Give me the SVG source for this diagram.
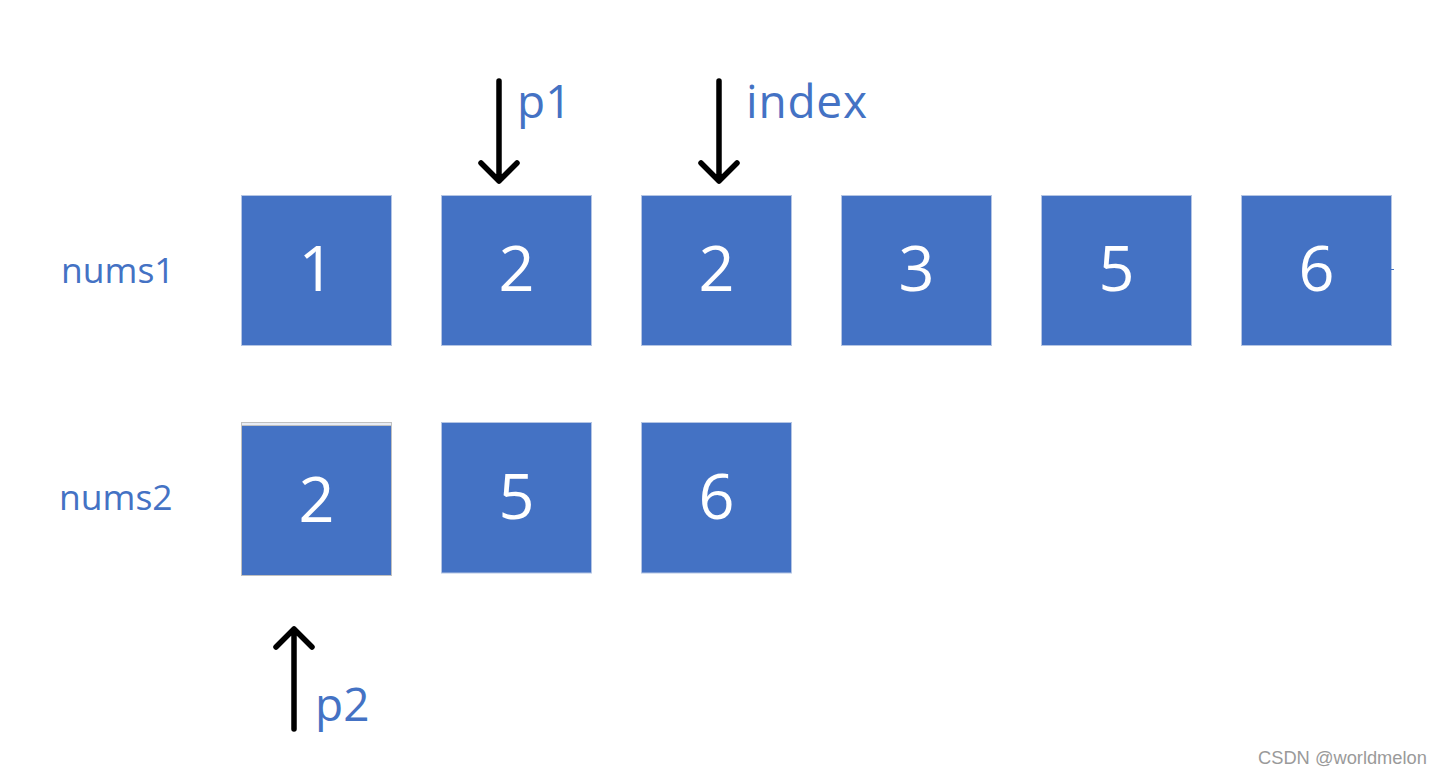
<svg xmlns="http://www.w3.org/2000/svg" width="1443" height="774" viewBox="0 0 1443 774">
<style>
.box{fill:#4472C4;stroke:#B4C5E4;stroke-width:1}
.num{font-family:"Open Sans","Noto Sans",sans-serif;font-size:63px;fill:#FFFFFF;text-anchor:middle}
.lbl{font-family:"Open Sans","Noto Sans",sans-serif;fill:#4472C4}
.arr{fill:none;stroke:#000000;stroke-width:5.5;stroke-linecap:round;stroke-linejoin:round}
.wm{font-family:"Liberation Sans",Arial,sans-serif;font-size:18.3px;fill:#9a9a9a}
</style>
<rect width="1443" height="774" fill="#FFFFFF"/>
<g id="label-nums1"><text class="lbl" x="61" y="283" font-size="35.5">nums1</text></g>
<g id="label-nums2"><text class="lbl" x="59" y="510" font-size="35.5">nums2</text></g>
<g id="n1-0"><rect class="box" x="241.5" y="195.5" width="150" height="150"/><text class="num" x="316.5" y="291">1</text></g>
<g id="n1-1"><rect class="box" x="441.5" y="195.5" width="150" height="150"/><text class="num" x="516.5" y="291">2</text></g>
<g id="n1-2"><rect class="box" x="641.5" y="195.5" width="150" height="150"/><text class="num" x="716.5" y="291">2</text></g>
<g id="n1-3"><rect class="box" x="841.5" y="195.5" width="150" height="150"/><text class="num" x="916.5" y="291">3</text></g>
<g id="n1-4"><rect class="box" x="1041.5" y="195.5" width="150" height="150"/><text class="num" x="1116.5" y="291">5</text></g>
<g id="n1-5"><rect class="box" x="1241.5" y="195.5" width="150" height="150"/><text class="num" x="1316.5" y="291">6</text><line x1="1391" y1="269.5" x2="1394" y2="269.5" stroke="#4472C4" stroke-width="1"/></g>
<g id="n2-0"><rect x="241.5" y="422.5" width="150" height="153" fill="#4472C4" stroke="#C0C0C0" stroke-width="1"/><line x1="242" y1="424" x2="391" y2="424" stroke="#E8ECF4" stroke-width="2"/><line x1="242" y1="425.5" x2="391" y2="425.5" stroke="#C0C0C0" stroke-width="1"/><text class="num" x="316.5" y="522">2</text></g>
<g id="n2-1"><rect class="box" x="441.5" y="422.5" width="150" height="150.5"/><text class="num" x="516.5" y="519">5</text></g>
<g id="n2-2"><rect class="box" x="641.5" y="422.5" width="150" height="150.5"/><text class="num" x="716.5" y="519">6</text></g>
<g id="connectors">
<path class="arr" d="M499 81 V181 M481 163 L499 181 L517 163"/>
<path class="arr" d="M719 81 V181 M701 163 L719 181 L737 163"/>
<path class="arr" d="M294 729 V629 M276 647 L294 629 L312 647"/>
</g>
<g id="label-p1"><text class="lbl" x="517" y="118" font-size="46">p1</text></g>
<g id="label-index"><text class="lbl" x="746" y="118" font-size="46" textLength="121">index</text></g>
<g id="label-p2"><text class="lbl" x="315" y="721" font-size="46">p2</text></g>
<text class="wm" x="1258" y="764">CSDN @worldmelon</text>
</svg>
